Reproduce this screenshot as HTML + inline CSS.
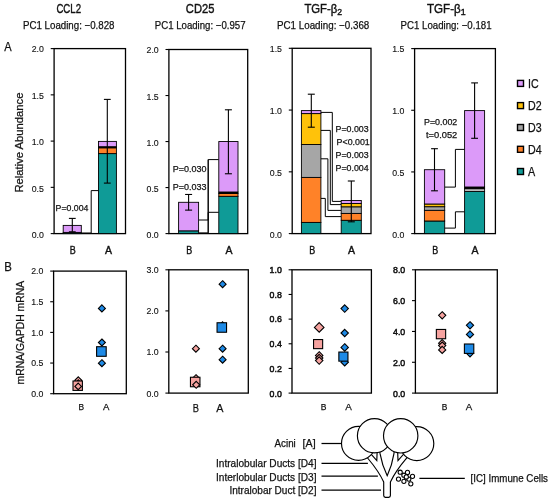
<!DOCTYPE html>
<html><head><meta charset="utf-8"><title>Figure</title>
<style>
html,body{margin:0;padding:0;background:#fff;}
svg{display:block;font-family:"Liberation Sans",sans-serif;}
text{stroke:#111;stroke-width:0.25px;}
text.t{stroke-width:0.4px;}
text.k{stroke-width:0.12px;}
text.kb{stroke-width:0.5px;}
</style></head><body>
<svg width="550" height="501" viewBox="0 0 550 501">
<rect x="0" y="0" width="550" height="501" fill="#fff"/>
<text x="68.7" y="12.8" font-size="12" text-anchor="middle" textLength="24.6" lengthAdjust="spacingAndGlyphs" fill="#111" class="t">CCL2</text>
<text x="200.1" y="12.8" font-size="12" text-anchor="middle" textLength="28.5" lengthAdjust="spacingAndGlyphs" fill="#111" class="t">CD25</text>
<text x="304.4" y="12.8" font-size="12" textLength="37.6" lengthAdjust="spacingAndGlyphs" fill="#111" class="t">TGF-β<tspan font-size="9.2" dy="2.4">2</tspan></text>
<text x="427" y="12.8" font-size="12" textLength="38.6" lengthAdjust="spacingAndGlyphs" fill="#111" class="t">TGF-β<tspan font-size="9.2" dy="2.4">1</tspan></text>
<text x="23" y="28.6" font-size="11" textLength="91.5" lengthAdjust="spacingAndGlyphs" fill="#111">PC1 Loading: −0.828</text>
<text x="154.8" y="28.6" font-size="11" textLength="90.7" lengthAdjust="spacingAndGlyphs" fill="#111">PC1 Loading: −0.957</text>
<text x="277" y="28.6" font-size="11" textLength="92.3" lengthAdjust="spacingAndGlyphs" fill="#111">PC1 Loading: −0.368</text>
<text x="400.6" y="28.6" font-size="11" textLength="90.9" lengthAdjust="spacingAndGlyphs" fill="#111">PC1 Loading: −0.181</text>
<text x="4.2" y="50.8" font-size="12" textLength="7.4" lengthAdjust="spacingAndGlyphs" fill="#111">A</text>
<text x="4.2" y="271" font-size="12.2" textLength="7.6" lengthAdjust="spacingAndGlyphs" fill="#111">B</text>
<text transform="translate(23.1,192.5) rotate(-90)" font-size="10.6" textLength="100" lengthAdjust="spacingAndGlyphs" fill="#111">Relative Abundance</text>
<text transform="translate(24.0,384.4) rotate(-90)" font-size="10.3" textLength="103.5" lengthAdjust="spacingAndGlyphs" fill="#111">mRNA/GAPDH mRNA</text>
<rect x="54.10" y="48.60" width="71.40" height="185.00" fill="none" stroke="#000" stroke-width="1.3"/>
<line x1="50.7" y1="233.6" x2="54.1" y2="233.6" stroke="#000" stroke-width="1.1"/>
<text x="43.900000000000006" y="238.4" font-size="9.0" text-anchor="end" textLength="12.2" lengthAdjust="spacingAndGlyphs" fill="#111" class="k">0.0</text>
<line x1="50.7" y1="187.35" x2="54.1" y2="187.35" stroke="#000" stroke-width="1.1"/>
<text x="43.900000000000006" y="191.9" font-size="9.0" text-anchor="end" textLength="12.2" lengthAdjust="spacingAndGlyphs" fill="#111" class="k">0.5</text>
<line x1="50.7" y1="141.1" x2="54.1" y2="141.1" stroke="#000" stroke-width="1.1"/>
<text x="43.900000000000006" y="145.4" font-size="9.0" text-anchor="end" textLength="12.2" lengthAdjust="spacingAndGlyphs" fill="#111" class="k">1.0</text>
<line x1="50.7" y1="94.85" x2="54.1" y2="94.85" stroke="#000" stroke-width="1.1"/>
<text x="43.900000000000006" y="98.89999999999999" font-size="9.0" text-anchor="end" textLength="12.2" lengthAdjust="spacingAndGlyphs" fill="#111" class="k">1.5</text>
<line x1="50.7" y1="48.599999999999994" x2="54.1" y2="48.599999999999994" stroke="#000" stroke-width="1.1"/>
<text x="43.900000000000006" y="52.39999999999999" font-size="9.0" text-anchor="end" textLength="12.2" lengthAdjust="spacingAndGlyphs" fill="#111" class="k">2.0</text>
<polyline points="81.2,233 91.2,233 91.2,190.6 98.6,190.6" fill="none" stroke="#000" stroke-width="1"/>
<rect x="63.20" y="232.40" width="18.10" height="1.20" fill="#0f9b97" stroke="#000" stroke-width="0.9"/>
<rect x="63.20" y="225.40" width="18.10" height="7.00" fill="#dc9af9" stroke="#000" stroke-width="0.9"/>
<rect x="98.50" y="153.60" width="17.90" height="80.00" fill="#0f9b97" stroke="#000" stroke-width="0.9"/>
<rect x="98.50" y="147.80" width="17.90" height="5.80" fill="#ff8228" stroke="#000" stroke-width="0.9"/>
<rect x="98.50" y="146.70" width="17.90" height="1.10" fill="#000" stroke="#000" stroke-width="0.9"/>
<rect x="98.50" y="141.40" width="17.90" height="5.30" fill="#dc9af9" stroke="#000" stroke-width="0.9"/>
<line x1="72.3" y1="218.4" x2="72.3" y2="231.8" stroke="#000" stroke-width="1.1"/>
<line x1="68.89999999999999" y1="218.4" x2="75.7" y2="218.4" stroke="#000" stroke-width="1.1"/>
<line x1="68.89999999999999" y1="231.8" x2="75.7" y2="231.8" stroke="#000" stroke-width="1.1"/>
<line x1="107.3" y1="99.4" x2="107.3" y2="183.1" stroke="#000" stroke-width="1.1"/>
<line x1="103.89999999999999" y1="99.4" x2="110.7" y2="99.4" stroke="#000" stroke-width="1.1"/>
<line x1="103.89999999999999" y1="183.1" x2="110.7" y2="183.1" stroke="#000" stroke-width="1.1"/>
<text x="55.6" y="211.2" font-size="9.4" textLength="32.8" lengthAdjust="spacingAndGlyphs" fill="#111">P=0.004</text>
<rect x="168.90" y="49.50" width="78.80" height="184.10" fill="none" stroke="#000" stroke-width="1.3"/>
<line x1="165.5" y1="233.6" x2="168.9" y2="233.6" stroke="#000" stroke-width="1.1"/>
<text x="158.70000000000002" y="238.4" font-size="9.0" text-anchor="end" textLength="12.2" lengthAdjust="spacingAndGlyphs" fill="#111" class="k">0.0</text>
<line x1="165.5" y1="187.575" x2="168.9" y2="187.575" stroke="#000" stroke-width="1.1"/>
<text x="158.70000000000002" y="192.125" font-size="9.0" text-anchor="end" textLength="12.2" lengthAdjust="spacingAndGlyphs" fill="#111" class="k">0.5</text>
<line x1="165.5" y1="141.55" x2="168.9" y2="141.55" stroke="#000" stroke-width="1.1"/>
<text x="158.70000000000002" y="145.85000000000002" font-size="9.0" text-anchor="end" textLength="12.2" lengthAdjust="spacingAndGlyphs" fill="#111" class="k">1.0</text>
<line x1="165.5" y1="95.525" x2="168.9" y2="95.525" stroke="#000" stroke-width="1.1"/>
<text x="158.70000000000002" y="99.575" font-size="9.0" text-anchor="end" textLength="12.2" lengthAdjust="spacingAndGlyphs" fill="#111" class="k">1.5</text>
<line x1="165.5" y1="49.5" x2="168.9" y2="49.5" stroke="#000" stroke-width="1.1"/>
<text x="158.70000000000002" y="53.3" font-size="9.0" text-anchor="end" textLength="12.2" lengthAdjust="spacingAndGlyphs" fill="#111" class="k">2.0</text>
<polyline points="198.6,220 208.2,220 208.2,159.6 218.8,159.6" fill="none" stroke="#000" stroke-width="1"/>
<polyline points="198.6,232.9 208.2,232.9 208.2,212.3 218.8,212.3" fill="none" stroke="#000" stroke-width="1"/>
<line x1="208.2" y1="159.6" x2="208.2" y2="232.9" stroke="#000" stroke-width="1"/>
<rect x="178.60" y="230.84" width="20.00" height="2.76" fill="#0f9b97" stroke="#000" stroke-width="0.9"/>
<rect x="178.60" y="202.30" width="20.00" height="28.54" fill="#dc9af9" stroke="#000" stroke-width="0.9"/>
<rect x="218.80" y="196.32" width="19.20" height="37.28" fill="#0f9b97" stroke="#000" stroke-width="0.9"/>
<rect x="218.80" y="193.56" width="19.20" height="2.76" fill="#ff8228" stroke="#000" stroke-width="0.9"/>
<rect x="218.80" y="191.99" width="19.20" height="1.56" fill="#000" stroke="#000" stroke-width="0.9"/>
<rect x="218.80" y="141.55" width="19.20" height="50.44" fill="#dc9af9" stroke="#000" stroke-width="0.9"/>
<line x1="188.6" y1="194.47875" x2="188.6" y2="210.12725" stroke="#000" stroke-width="1.1"/>
<line x1="185.1" y1="194.47875" x2="192.1" y2="194.47875" stroke="#000" stroke-width="1.1"/>
<line x1="185.1" y1="210.12725" x2="192.1" y2="210.12725" stroke="#000" stroke-width="1.1"/>
<line x1="228.4" y1="109.79275" x2="228.4" y2="173.76749999999998" stroke="#000" stroke-width="1.1"/>
<line x1="224.9" y1="109.79275" x2="231.9" y2="109.79275" stroke="#000" stroke-width="1.1"/>
<line x1="224.9" y1="173.76749999999998" x2="231.9" y2="173.76749999999998" stroke="#000" stroke-width="1.1"/>
<text x="172.8" y="172.4" font-size="9.6" textLength="33.8" lengthAdjust="spacingAndGlyphs" fill="#111">P=0.030</text>
<text x="172.8" y="189.9" font-size="9.6" textLength="33.8" lengthAdjust="spacingAndGlyphs" fill="#111">P=0.033</text>
<rect x="292.20" y="48.30" width="78.80" height="185.30" fill="none" stroke="#000" stroke-width="1.3"/>
<line x1="288.8" y1="233.6" x2="292.2" y2="233.6" stroke="#000" stroke-width="1.1"/>
<text x="282.0" y="238.4" font-size="9.0" text-anchor="end" textLength="12.2" lengthAdjust="spacingAndGlyphs" fill="#111" class="k">0.0</text>
<line x1="288.8" y1="171.83333333333331" x2="292.2" y2="171.83333333333331" stroke="#000" stroke-width="1.1"/>
<text x="282.0" y="176.29999999999998" font-size="9.0" text-anchor="end" textLength="12.2" lengthAdjust="spacingAndGlyphs" fill="#111" class="k">0.5</text>
<line x1="288.8" y1="110.06666666666665" x2="292.2" y2="110.06666666666665" stroke="#000" stroke-width="1.1"/>
<text x="282.0" y="114.19999999999997" font-size="9.0" text-anchor="end" textLength="12.2" lengthAdjust="spacingAndGlyphs" fill="#111" class="k">1.0</text>
<line x1="288.8" y1="48.299999999999955" x2="292.2" y2="48.299999999999955" stroke="#000" stroke-width="1.1"/>
<text x="282.0" y="52.09999999999995" font-size="9.0" text-anchor="end" textLength="12.2" lengthAdjust="spacingAndGlyphs" fill="#111" class="k">1.5</text>
<polyline points="320.6,112.4 332.3,112.4 332.3,201.4 341.2,201.4" fill="none" stroke="#000" stroke-width="1"/>
<polyline points="320.6,130.4 330.3,130.4 330.3,204.6 341.2,204.6" fill="none" stroke="#000" stroke-width="1"/>
<polyline points="320.6,158.8 327.9,158.8 327.9,210.4 341.2,210.4" fill="none" stroke="#000" stroke-width="1"/>
<polyline points="320.6,198.4 325.3,198.4 325.3,216.6 341.2,216.6" fill="none" stroke="#000" stroke-width="1"/>
<rect x="301.40" y="222.40" width="19.50" height="11.20" fill="#0f9b97" stroke="#000" stroke-width="0.9"/>
<rect x="301.40" y="177.40" width="19.50" height="45.00" fill="#ff8228" stroke="#000" stroke-width="0.9"/>
<rect x="301.40" y="144.50" width="19.50" height="32.90" fill="#a6a6a6" stroke="#000" stroke-width="0.9"/>
<rect x="301.40" y="113.60" width="19.50" height="30.90" fill="#ffc20a" stroke="#000" stroke-width="0.9"/>
<rect x="301.40" y="110.60" width="19.50" height="3.00" fill="#dc9af9" stroke="#000" stroke-width="0.9"/>
<rect x="341.20" y="220.30" width="20.10" height="13.30" fill="#0f9b97" stroke="#000" stroke-width="0.9"/>
<rect x="341.20" y="213.40" width="20.10" height="6.90" fill="#ff8228" stroke="#000" stroke-width="0.9"/>
<rect x="341.20" y="206.80" width="20.10" height="6.60" fill="#a6a6a6" stroke="#000" stroke-width="0.9"/>
<rect x="341.20" y="203.50" width="20.10" height="3.30" fill="#ffc20a" stroke="#000" stroke-width="0.9"/>
<rect x="341.20" y="200.50" width="20.10" height="3.00" fill="#dc9af9" stroke="#000" stroke-width="0.9"/>
<line x1="311.3" y1="94.2" x2="311.3" y2="127.2" stroke="#000" stroke-width="1.1"/>
<line x1="307.8" y1="94.2" x2="314.8" y2="94.2" stroke="#000" stroke-width="1.1"/>
<line x1="307.8" y1="127.2" x2="314.8" y2="127.2" stroke="#000" stroke-width="1.1"/>
<line x1="351.3" y1="181" x2="351.3" y2="221.8" stroke="#000" stroke-width="1.1"/>
<line x1="347.8" y1="181" x2="354.8" y2="181" stroke="#000" stroke-width="1.1"/>
<line x1="347.8" y1="221.8" x2="354.8" y2="221.8" stroke="#000" stroke-width="1.1"/>
<text x="335.5" y="132.2" font-size="9.6" textLength="33.2" lengthAdjust="spacingAndGlyphs" fill="#111">P=0.003</text>
<text x="336.6" y="145.3" font-size="9.6" textLength="33.2" lengthAdjust="spacingAndGlyphs" fill="#111">P&lt;0.001</text>
<text x="335.5" y="158.2" font-size="9.6" textLength="33.2" lengthAdjust="spacingAndGlyphs" fill="#111">P=0.003</text>
<text x="335.5" y="171.1" font-size="9.6" textLength="33.2" lengthAdjust="spacingAndGlyphs" fill="#111">P=0.004</text>
<rect x="414.60" y="48.60" width="80.80" height="185.00" fill="none" stroke="#000" stroke-width="1.3"/>
<line x1="411.20000000000005" y1="233.6" x2="414.6" y2="233.6" stroke="#000" stroke-width="1.1"/>
<text x="404.40000000000003" y="238.4" font-size="9.0" text-anchor="end" textLength="12.2" lengthAdjust="spacingAndGlyphs" fill="#111" class="k">0.0</text>
<line x1="411.20000000000005" y1="171.93333333333334" x2="414.6" y2="171.93333333333334" stroke="#000" stroke-width="1.1"/>
<text x="404.40000000000003" y="176.4" font-size="9.0" text-anchor="end" textLength="12.2" lengthAdjust="spacingAndGlyphs" fill="#111" class="k">0.5</text>
<line x1="411.20000000000005" y1="110.26666666666667" x2="414.6" y2="110.26666666666667" stroke="#000" stroke-width="1.1"/>
<text x="404.40000000000003" y="114.39999999999999" font-size="9.0" text-anchor="end" textLength="12.2" lengthAdjust="spacingAndGlyphs" fill="#111" class="k">1.0</text>
<line x1="411.20000000000005" y1="48.599999999999994" x2="414.6" y2="48.599999999999994" stroke="#000" stroke-width="1.1"/>
<text x="404.40000000000003" y="52.39999999999999" font-size="9.0" text-anchor="end" textLength="12.2" lengthAdjust="spacingAndGlyphs" fill="#111" class="k">1.5</text>
<polyline points="444.7,187.1 455.4,187.1 455.4,149.4 464.6,149.4" fill="none" stroke="#000" stroke-width="1"/>
<polyline points="444.7,228.1 455.4,228.1 455.4,211.8 464.6,211.8" fill="none" stroke="#000" stroke-width="1"/>
<rect x="424.40" y="221.00" width="20.30" height="12.60" fill="#0f9b97" stroke="#000" stroke-width="0.9"/>
<rect x="424.40" y="210.30" width="20.30" height="10.70" fill="#ff8228" stroke="#000" stroke-width="0.9"/>
<rect x="424.40" y="206.70" width="20.30" height="3.60" fill="#a6a6a6" stroke="#000" stroke-width="0.9"/>
<rect x="424.40" y="204.00" width="20.30" height="2.70" fill="#ffc20a" stroke="#000" stroke-width="0.9"/>
<rect x="424.40" y="169.70" width="20.30" height="34.30" fill="#dc9af9" stroke="#000" stroke-width="0.9"/>
<rect x="464.60" y="191.40" width="20.00" height="42.20" fill="#0f9b97" stroke="#000" stroke-width="0.9"/>
<rect x="464.60" y="188.70" width="20.00" height="2.70" fill="#c8c8c8" stroke="#000" stroke-width="0.9"/>
<rect x="464.60" y="187.00" width="20.00" height="1.70" fill="#000" stroke="#000" stroke-width="0.9"/>
<rect x="464.60" y="110.60" width="20.00" height="76.40" fill="#dc9af9" stroke="#000" stroke-width="0.9"/>
<line x1="434.5" y1="148.7" x2="434.5" y2="190.8" stroke="#000" stroke-width="1.1"/>
<line x1="431.1" y1="148.7" x2="437.9" y2="148.7" stroke="#000" stroke-width="1.1"/>
<line x1="431.1" y1="190.8" x2="437.9" y2="190.8" stroke="#000" stroke-width="1.1"/>
<line x1="474.6" y1="82.9" x2="474.6" y2="138.3" stroke="#000" stroke-width="1.1"/>
<line x1="471.20000000000005" y1="82.9" x2="478.0" y2="82.9" stroke="#000" stroke-width="1.1"/>
<line x1="471.20000000000005" y1="138.3" x2="478.0" y2="138.3" stroke="#000" stroke-width="1.1"/>
<text x="424" y="124.6" font-size="9.3" textLength="33.3" lengthAdjust="spacingAndGlyphs" fill="#111">P=0.002</text>
<text x="426" y="137.9" font-size="9.3" textLength="31.3" lengthAdjust="spacingAndGlyphs" fill="#111">t=0.052</text>
<rect x="517.50" y="80.40" width="6.00" height="6.00" fill="#dc9af9" stroke="#000" stroke-width="1.4"/>
<text x="528.0" y="87.60000000000001" font-size="12" textLength="10.6" lengthAdjust="spacingAndGlyphs" fill="#111">IC</text>
<rect x="517.50" y="102.60" width="6.00" height="6.00" fill="#ffc20a" stroke="#000" stroke-width="1.4"/>
<text x="528.0" y="109.8" font-size="12" textLength="13.6" lengthAdjust="spacingAndGlyphs" fill="#111">D2</text>
<rect x="517.50" y="124.50" width="6.00" height="6.00" fill="#a6a6a6" stroke="#000" stroke-width="1.4"/>
<text x="528.0" y="131.7" font-size="12" textLength="13.6" lengthAdjust="spacingAndGlyphs" fill="#111">D3</text>
<rect x="517.50" y="146.30" width="6.00" height="6.00" fill="#ff8228" stroke="#000" stroke-width="1.4"/>
<text x="528.0" y="153.5" font-size="12" textLength="13.6" lengthAdjust="spacingAndGlyphs" fill="#111">D4</text>
<rect x="517.50" y="168.50" width="6.00" height="6.00" fill="#0f9b97" stroke="#000" stroke-width="1.4"/>
<text x="528.0" y="175.7" font-size="12" textLength="7.2" lengthAdjust="spacingAndGlyphs" fill="#111">A</text>
<text x="72.8" y="253.8" font-size="10.8" text-anchor="middle" textLength="6.0" lengthAdjust="spacingAndGlyphs" fill="#111" class="t">B</text>
<text x="108.5" y="253.8" font-size="10.8" text-anchor="middle" textLength="7.0" lengthAdjust="spacingAndGlyphs" fill="#111" class="t">A</text>
<text x="189.2" y="253.8" font-size="10.8" text-anchor="middle" textLength="6.0" lengthAdjust="spacingAndGlyphs" fill="#111" class="t">B</text>
<text x="229" y="253.8" font-size="10.8" text-anchor="middle" textLength="7.0" lengthAdjust="spacingAndGlyphs" fill="#111" class="t">A</text>
<text x="312.2" y="253.8" font-size="10.8" text-anchor="middle" textLength="6.0" lengthAdjust="spacingAndGlyphs" fill="#111" class="t">B</text>
<text x="351.6" y="253.8" font-size="10.8" text-anchor="middle" textLength="7.0" lengthAdjust="spacingAndGlyphs" fill="#111" class="t">A</text>
<text x="435.3" y="253.8" font-size="10.8" text-anchor="middle" textLength="6.0" lengthAdjust="spacingAndGlyphs" fill="#111" class="t">B</text>
<text x="475" y="253.8" font-size="10.8" text-anchor="middle" textLength="7.0" lengthAdjust="spacingAndGlyphs" fill="#111" class="t">A</text>
<rect x="53.60" y="271.10" width="72.70" height="122.60" fill="none" stroke="#000" stroke-width="1.3"/>
<line x1="50.2" y1="393.7" x2="53.6" y2="393.7" stroke="#000" stroke-width="1.1"/>
<text x="43.400000000000006" y="397.1" font-size="9.0" text-anchor="end" textLength="12.2" lengthAdjust="spacingAndGlyphs" fill="#111" class="k">0.0</text>
<line x1="50.2" y1="363.05" x2="53.6" y2="363.05" stroke="#000" stroke-width="1.1"/>
<text x="43.400000000000006" y="366.425" font-size="9.0" text-anchor="end" textLength="12.2" lengthAdjust="spacingAndGlyphs" fill="#111" class="k">0.5</text>
<line x1="50.2" y1="332.4" x2="53.6" y2="332.4" stroke="#000" stroke-width="1.1"/>
<text x="43.400000000000006" y="335.75" font-size="9.0" text-anchor="end" textLength="12.2" lengthAdjust="spacingAndGlyphs" fill="#111" class="k">1.0</text>
<line x1="50.2" y1="301.75" x2="53.6" y2="301.75" stroke="#000" stroke-width="1.1"/>
<text x="43.400000000000006" y="305.075" font-size="9.0" text-anchor="end" textLength="12.2" lengthAdjust="spacingAndGlyphs" fill="#111" class="k">1.5</text>
<line x1="50.2" y1="271.1" x2="53.6" y2="271.1" stroke="#000" stroke-width="1.1"/>
<text x="43.400000000000006" y="274.40000000000003" font-size="9.0" text-anchor="end" textLength="12.2" lengthAdjust="spacingAndGlyphs" fill="#111" class="k">2.0</text>
<polygon points="78.3,376.8 81.8,380.3 78.3,383.8 74.8,380.3" fill="#f6a3a0" stroke="#000" stroke-width="1.1"/>
<polygon points="78.3,379.9 81.8,383.4 78.3,386.9 74.8,383.4" fill="#f6a3a0" stroke="#000" stroke-width="1.1"/>
<rect x="73.00" y="381.00" width="9.40" height="9.40" fill="#f6a3a0" stroke="#000" stroke-width="1.1"/>
<polygon points="78.2,383.09999999999997 81.5,386.4 78.2,389.7 74.9,386.4" fill="#f6a3a0" stroke="#000" stroke-width="1.1"/>
<polygon points="101.9,304.9 105.4,308.4 101.9,311.9 98.4,308.4" fill="#1e8ae6" stroke="#000" stroke-width="1.1"/>
<polygon points="101.9,339.0 105.4,342.5 101.9,346.0 98.4,342.5" fill="#1e8ae6" stroke="#000" stroke-width="1.1"/>
<polygon points="101.9,359.7 105.4,363.2 101.9,366.7 98.4,363.2" fill="#1e8ae6" stroke="#000" stroke-width="1.1"/>
<rect x="96.60" y="346.70" width="9.60" height="9.60" fill="#1e8ae6" stroke="#000" stroke-width="1.1"/>
<text x="81.3" y="409.8" font-size="9.6" text-anchor="middle" textLength="5.6" lengthAdjust="spacingAndGlyphs" fill="#111">B</text>
<text x="106.2" y="409.8" font-size="9.6" text-anchor="middle" textLength="6.4" lengthAdjust="spacingAndGlyphs" fill="#111">A</text>
<rect x="168.80" y="269.80" width="79.50" height="123.30" fill="none" stroke="#000" stroke-width="1.3"/>
<line x1="165.4" y1="393.1" x2="168.8" y2="393.1" stroke="#000" stroke-width="1.1"/>
<text x="158.60000000000002" y="396.50000000000006" font-size="9.0" text-anchor="end" textLength="12.2" lengthAdjust="spacingAndGlyphs" fill="#111" class="k">0.0</text>
<line x1="165.4" y1="352.0" x2="168.8" y2="352.0" stroke="#000" stroke-width="1.1"/>
<text x="158.60000000000002" y="355.3666666666667" font-size="9.0" text-anchor="end" textLength="12.2" lengthAdjust="spacingAndGlyphs" fill="#111" class="k">1.0</text>
<line x1="165.4" y1="310.90000000000003" x2="168.8" y2="310.90000000000003" stroke="#000" stroke-width="1.1"/>
<text x="158.60000000000002" y="314.2333333333334" font-size="9.0" text-anchor="end" textLength="12.2" lengthAdjust="spacingAndGlyphs" fill="#111" class="k">2.0</text>
<line x1="165.4" y1="269.8" x2="168.8" y2="269.8" stroke="#000" stroke-width="1.1"/>
<text x="158.60000000000002" y="273.1" font-size="9.0" text-anchor="end" textLength="12.2" lengthAdjust="spacingAndGlyphs" fill="#111" class="k">3.0</text>
<polygon points="195.9,345.2 199.4,348.7 195.9,352.2 192.4,348.7" fill="#f6a3a0" stroke="#000" stroke-width="1.1"/>
<polygon points="196,374.7 199.5,378.2 196,381.7 192.5,378.2" fill="#f6a3a0" stroke="#000" stroke-width="1.1"/>
<rect x="190.45" y="377.25" width="9.50" height="9.50" fill="#f6a3a0" stroke="#000" stroke-width="1.1"/>
<polygon points="196.2,381.3 199.7,384.8 196.2,388.3 192.7,384.8" fill="#f6a3a0" stroke="#000" stroke-width="1.1"/>
<polygon points="222.6,280.7 226.1,284.2 222.6,287.7 219.1,284.2" fill="#1e8ae6" stroke="#000" stroke-width="1.1"/>
<polygon points="222.6,345.2 226.1,348.7 222.6,352.2 219.1,348.7" fill="#1e8ae6" stroke="#000" stroke-width="1.1"/>
<polygon points="222.6,356.2 226.1,359.7 222.6,363.2 219.1,359.7" fill="#1e8ae6" stroke="#000" stroke-width="1.1"/>
<polygon points="222.6,321.8 226.1,325.3 222.6,328.8 219.1,325.3" fill="#1e8ae6" stroke="#000" stroke-width="1.1"/>
<rect x="217.05" y="322.75" width="9.50" height="9.50" fill="#1e8ae6" stroke="#000" stroke-width="1.1"/>
<text x="195.8" y="411.8" font-size="11.5" text-anchor="middle" textLength="6.2" lengthAdjust="spacingAndGlyphs" fill="#111">B</text>
<text x="219.8" y="411.8" font-size="11.5" text-anchor="middle" textLength="7.2" lengthAdjust="spacingAndGlyphs" fill="#111">A</text>
<rect x="292.00" y="269.80" width="79.40" height="123.30" fill="none" stroke="#000" stroke-width="1.3"/>
<line x1="288.6" y1="393.1" x2="292" y2="393.1" stroke="#000" stroke-width="1.1"/>
<text x="281.8" y="396.50000000000006" font-size="9.0" text-anchor="end" textLength="12.2" lengthAdjust="spacingAndGlyphs" fill="#111" class="kb">0.0</text>
<line x1="288.6" y1="368.44" x2="292" y2="368.44" stroke="#000" stroke-width="1.1"/>
<text x="281.8" y="371.82" font-size="9.0" text-anchor="end" textLength="12.2" lengthAdjust="spacingAndGlyphs" fill="#111" class="kb">0.2</text>
<line x1="288.6" y1="343.78000000000003" x2="292" y2="343.78000000000003" stroke="#000" stroke-width="1.1"/>
<text x="281.8" y="347.14000000000004" font-size="9.0" text-anchor="end" textLength="12.2" lengthAdjust="spacingAndGlyphs" fill="#111" class="kb">0.4</text>
<line x1="288.6" y1="319.12" x2="292" y2="319.12" stroke="#000" stroke-width="1.1"/>
<text x="281.8" y="322.46000000000004" font-size="9.0" text-anchor="end" textLength="12.2" lengthAdjust="spacingAndGlyphs" fill="#111" class="kb">0.6</text>
<line x1="288.6" y1="294.46000000000004" x2="292" y2="294.46000000000004" stroke="#000" stroke-width="1.1"/>
<text x="281.8" y="297.78000000000003" font-size="9.0" text-anchor="end" textLength="12.2" lengthAdjust="spacingAndGlyphs" fill="#111" class="kb">0.8</text>
<line x1="288.6" y1="269.8" x2="292" y2="269.8" stroke="#000" stroke-width="1.1"/>
<text x="281.8" y="273.1" font-size="9.0" text-anchor="end" textLength="12.2" lengthAdjust="spacingAndGlyphs" fill="#111" class="kb">1.0</text>
<polygon points="319.2,322.59999999999997 324.0,327.4 319.2,332.2 314.4,327.4" fill="#f6a3a0" stroke="#000" stroke-width="1.1"/>
<polygon points="319.2,351.7 322.9,355.4 319.2,359.09999999999997 315.5,355.4" fill="#f6a3a0" stroke="#000" stroke-width="1.1"/>
<polygon points="319.2,354.40000000000003 322.9,358.1 319.2,361.8 315.5,358.1" fill="#f6a3a0" stroke="#000" stroke-width="1.1"/>
<polygon points="319.2,356.90000000000003 322.9,360.6 319.2,364.3 315.5,360.6" fill="#f6a3a0" stroke="#000" stroke-width="1.1"/>
<rect x="313.55" y="339.55" width="9.10" height="9.10" fill="#f6a3a0" stroke="#000" stroke-width="1.1"/>
<polygon points="344.7,304.90000000000003 348.4,308.6 344.7,312.3 341.0,308.6" fill="#1e8ae6" stroke="#000" stroke-width="1.1"/>
<polygon points="344.7,329.3 348.4,333 344.7,336.7 341.0,333" fill="#1e8ae6" stroke="#000" stroke-width="1.1"/>
<polygon points="344.7,343.7 348.4,347.4 344.7,351.09999999999997 341.0,347.4" fill="#1e8ae6" stroke="#000" stroke-width="1.1"/>
<polygon points="344.7,358.5 348.4,362.2 344.7,365.9 341.0,362.2" fill="#1e8ae6" stroke="#000" stroke-width="1.1"/>
<rect x="338.85" y="352.05" width="9.10" height="9.10" fill="#1e8ae6" stroke="#000" stroke-width="1.1"/>
<text x="323.6" y="409.8" font-size="9.6" text-anchor="middle" textLength="5.7" lengthAdjust="spacingAndGlyphs" fill="#111">B</text>
<text x="348.6" y="409.8" font-size="9.6" text-anchor="middle" textLength="6.6" lengthAdjust="spacingAndGlyphs" fill="#111">A</text>
<rect x="415.40" y="269.80" width="81.90" height="123.30" fill="none" stroke="#000" stroke-width="1.3"/>
<line x1="412.0" y1="393.1" x2="415.4" y2="393.1" stroke="#000" stroke-width="1.1"/>
<text x="405.2" y="396.50000000000006" font-size="9.0" text-anchor="end" textLength="12.2" lengthAdjust="spacingAndGlyphs" fill="#111" class="kb">0.0</text>
<line x1="412.0" y1="362.27500000000003" x2="415.4" y2="362.27500000000003" stroke="#000" stroke-width="1.1"/>
<text x="405.2" y="365.65000000000003" font-size="9.0" text-anchor="end" textLength="12.2" lengthAdjust="spacingAndGlyphs" fill="#111" class="kb">2.0</text>
<line x1="412.0" y1="331.45000000000005" x2="415.4" y2="331.45000000000005" stroke="#000" stroke-width="1.1"/>
<text x="405.2" y="334.80000000000007" font-size="9.0" text-anchor="end" textLength="12.2" lengthAdjust="spacingAndGlyphs" fill="#111" class="kb">4.0</text>
<line x1="412.0" y1="300.625" x2="415.4" y2="300.625" stroke="#000" stroke-width="1.1"/>
<text x="405.2" y="303.95" font-size="9.0" text-anchor="end" textLength="12.2" lengthAdjust="spacingAndGlyphs" fill="#111" class="kb">6.0</text>
<line x1="412.0" y1="269.8" x2="415.4" y2="269.8" stroke="#000" stroke-width="1.1"/>
<text x="405.2" y="273.1" font-size="9.0" text-anchor="end" textLength="12.2" lengthAdjust="spacingAndGlyphs" fill="#111" class="kb">8.0</text>
<polygon points="442.2,311.7 445.8,315.3 442.2,318.90000000000003 438.59999999999997,315.3" fill="#f6a3a0" stroke="#000" stroke-width="1.1"/>
<polygon points="442.2,339.59999999999997 445.8,343.2 442.2,346.8 438.59999999999997,343.2" fill="#f6a3a0" stroke="#000" stroke-width="1.1"/>
<polygon points="442.2,342.0 445.8,345.6 442.2,349.20000000000005 438.59999999999997,345.6" fill="#f6a3a0" stroke="#000" stroke-width="1.1"/>
<polygon points="442.2,346.29999999999995 445.8,349.9 442.2,353.5 438.59999999999997,349.9" fill="#f6a3a0" stroke="#000" stroke-width="1.1"/>
<rect x="436.35" y="329.45" width="9.30" height="9.30" fill="#f6a3a0" stroke="#000" stroke-width="1.1"/>
<polygon points="470,321.7 473.6,325.3 470,328.90000000000003 466.4,325.3" fill="#1e8ae6" stroke="#000" stroke-width="1.1"/>
<polygon points="470,330.79999999999995 473.6,334.4 470,338.0 466.4,334.4" fill="#1e8ae6" stroke="#000" stroke-width="1.1"/>
<polygon points="470,349.7 473.6,353.3 470,356.90000000000003 466.4,353.3" fill="#1e8ae6" stroke="#000" stroke-width="1.1"/>
<rect x="464.40" y="344.00" width="9.40" height="9.40" fill="#1e8ae6" stroke="#000" stroke-width="1.1"/>
<text x="444.5" y="409.8" font-size="9.6" text-anchor="middle" textLength="5.6" lengthAdjust="spacingAndGlyphs" fill="#111">B</text>
<text x="469.0" y="409.8" font-size="9.6" text-anchor="middle" textLength="6.5" lengthAdjust="spacingAndGlyphs" fill="#111">A</text>
<text x="274.6" y="447.1" font-size="10.8" textLength="21.2" lengthAdjust="spacingAndGlyphs" fill="#111">Acini</text>
<text x="302.6" y="447.1" font-size="10.8" textLength="13.0" lengthAdjust="spacingAndGlyphs" fill="#111">[A]</text>
<text x="216" y="467.2" font-size="10.8" textLength="100.5" lengthAdjust="spacingAndGlyphs" fill="#111">Intralobular Ducts [D4]</text>
<text x="216" y="480.5" font-size="10.8" textLength="100.5" lengthAdjust="spacingAndGlyphs" fill="#111">Interlobular Ducts [D3]</text>
<text x="229.4" y="493.8" font-size="10.8" textLength="87.1" lengthAdjust="spacingAndGlyphs" fill="#111">Intralobar Duct [D2]</text>
<text x="470.6" y="482.1" font-size="10.8" textLength="77.4" lengthAdjust="spacingAndGlyphs" fill="#111">[IC] Immune Cells</text>
<line x1="321.5" y1="443.5" x2="341.6" y2="443.5" stroke="#000" stroke-width="1.25"/>
<line x1="321.5" y1="463.3" x2="367.9" y2="463.3" stroke="#000" stroke-width="1.25"/>
<line x1="321.5" y1="476.1" x2="377.9" y2="476.1" stroke="#000" stroke-width="1.25"/>
<line x1="321.5" y1="490" x2="381" y2="490" stroke="#000" stroke-width="1.25"/>
<line x1="419.4" y1="478.4" x2="464.8" y2="478.4" stroke="#000" stroke-width="1.25"/>
<path d="M366.4,456.6 L368.4,459 Q378.5,471 383.7,481.9 L383.7,495.6 Q383.7,497.3 385.4,497.3 L388.7,497.3 Q390.4,497.3 390.4,495.6 L390.4,481.9 Q396,470.5 406.4,458.4 L408.4,456" fill="none" stroke="#000" stroke-width="1.15"/>
<path d="M379.6,450 L380.1,453.9 Q382,465 387.2,475.7 Q392.2,465 393.9,453.9 L394.4,450" fill="none" stroke="#000" stroke-width="1.15" stroke-linejoin="miter"/>
<polyline points="368.2,450.8 376.8,460.6 377.2,450" fill="none" stroke="#000" stroke-width="1.15"/>
<polyline points="397.6,450 398,460.6 406.5,450.8" fill="none" stroke="#000" stroke-width="1.15"/>
<circle cx="358.5" cy="443.4" r="17" fill="#fff" stroke="#000" stroke-width="1.15"/>
<circle cx="416.8" cy="443.6" r="17" fill="#fff" stroke="#000" stroke-width="1.15"/>
<circle cx="374.5" cy="435.8" r="17.1" fill="#fff" stroke="#000" stroke-width="1.15"/>
<circle cx="400.7" cy="435.8" r="17.2" fill="#fff" stroke="#000" stroke-width="1.15"/>
<circle cx="400.2" cy="472.2" r="2.1" fill="#fff" stroke="#000" stroke-width="1.05"/>
<circle cx="407.5" cy="472.4" r="2.1" fill="#fff" stroke="#000" stroke-width="1.05"/>
<circle cx="403.9" cy="475.2" r="2.1" fill="#fff" stroke="#000" stroke-width="1.05"/>
<circle cx="412.5" cy="476.3" r="2.1" fill="#fff" stroke="#000" stroke-width="1.05"/>
<circle cx="398.5" cy="479.1" r="2.1" fill="#fff" stroke="#000" stroke-width="1.05"/>
<circle cx="408.8" cy="479.1" r="2.1" fill="#fff" stroke="#000" stroke-width="1.05"/>
<circle cx="403.9" cy="481.3" r="2.1" fill="#fff" stroke="#000" stroke-width="1.05"/>
<circle cx="410.8" cy="483.8" r="2.1" fill="#fff" stroke="#000" stroke-width="1.05"/>
<circle cx="406.3" cy="476.9" r="2.1" fill="#fff" stroke="#000" stroke-width="1.05"/>
</svg>
</body></html>
